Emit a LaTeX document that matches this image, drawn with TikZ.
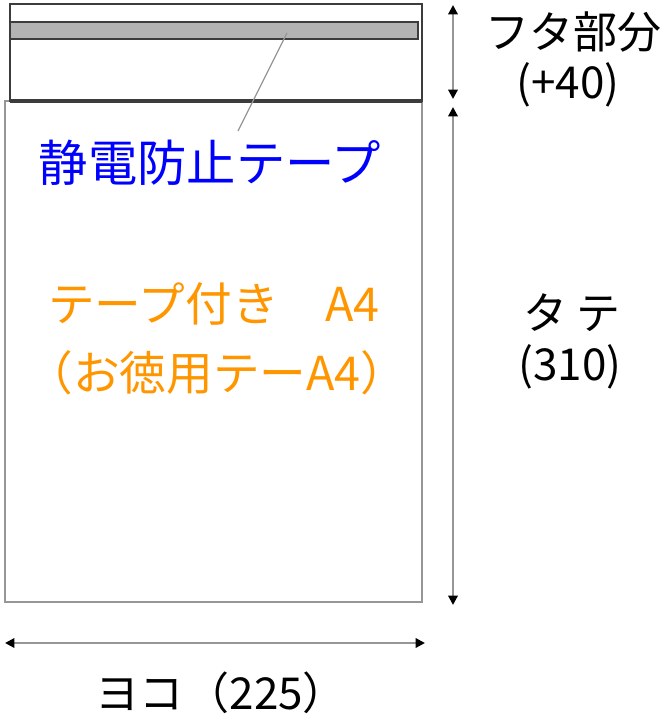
\documentclass[tikz,border=0pt]{standalone}
\usepackage{fontspec}
\newfontfamily\jpfont{Noto Sans CJK JP}
\usetikzlibrary{arrows.meta,positioning}
\definecolor{tapeGray}{RGB}{179,179,179}
\definecolor{edgeDark}{RGB}{60,60,60}
\definecolor{edgeLight}{RGB}{150,150,150}
\definecolor{shaftGray}{RGB}{150,150,150}
\definecolor{tapeBlue}{RGB}{0,0,255}
\definecolor{bagOrange}{RGB}{255,150,0}

\begin{document}
\begin{tikzpicture}[x=0.75pt,y=-0.75pt,
  every node/.style={font=\jpfont, inner sep=0pt},
  dimline/.style={draw=shaftGray, line width=1.6pt,
    {Triangle[color=black,length=7pt,width=7pt]}-{Triangle[color=black,length=7pt,width=7pt]}},
  biglabel/.style={font=\jpfont\fontsize{37}{40}\selectfont},
  midlabel/.style={font=\jpfont\fontsize{35}{38}\selectfont},
  sizelabel/.style={font=\jpfont\fontsize{33}{36}\selectfont}]

\useasboundingbox (0,0) rectangle (668,720);

% draw the bag body
\draw [edgeLight, line width=1.6pt] (5,101) rectangle (422,602);

% draw the flap and its tape
\draw [edgeDark, line width=2.2pt] (10,4) rectangle (422,101);
\filldraw [fill=tapeGray, draw=edgeDark, line width=1.6pt] (10,22) rectangle (418,39);
\draw [edgeDark, line width=3pt] (10,101) -- (422,101);

% labels inside the bag
\node [biglabel, text=tapeBlue] (antistatic) at (210,163) {静電防止テープ};
\node [midlabel, text=bagOrange] (bagname) at (214,304) {テープ付き　A4};
\node [midlabel, text=bagOrange] (bagsub) at (217,373) {（お徳用テーA4）};

% leader from the tape to its label
\coordinate (tapept) at (287,33);
\coordinate (leadend) at (238,131);
\draw [shaftGray, line width=0.9pt] (tapept) -- (leadend);

% draw the dimension arrows
\coordinate (flaptop) at (453,5);
\coordinate (flapbot) at (453,99);
\coordinate (bodytop) at (453,107);
\coordinate (bodybot) at (453,605);
\coordinate (wleft) at (5,643);
\coordinate (wright) at (425,643);
\foreach \a/\b in {flaptop/flapbot, bodytop/bodybot, wleft/wright}
  \draw [dimline] (\a) -- (\b);

% dimension labels
\node [sizelabel] (flaplabel) at (573,32) {フタ部分};
\node [sizelabel] (flapsize) at (568,85) {(+40)};
\node [sizelabel] (heightlabel) at (572,313) {タ テ};
\node [sizelabel] (heightsize) at (570,367) {(310)};
\node [sizelabel] (widthlabel) at (221,693) {ヨコ\hspace{2pt}（225）};

\end{tikzpicture}
\end{document}
